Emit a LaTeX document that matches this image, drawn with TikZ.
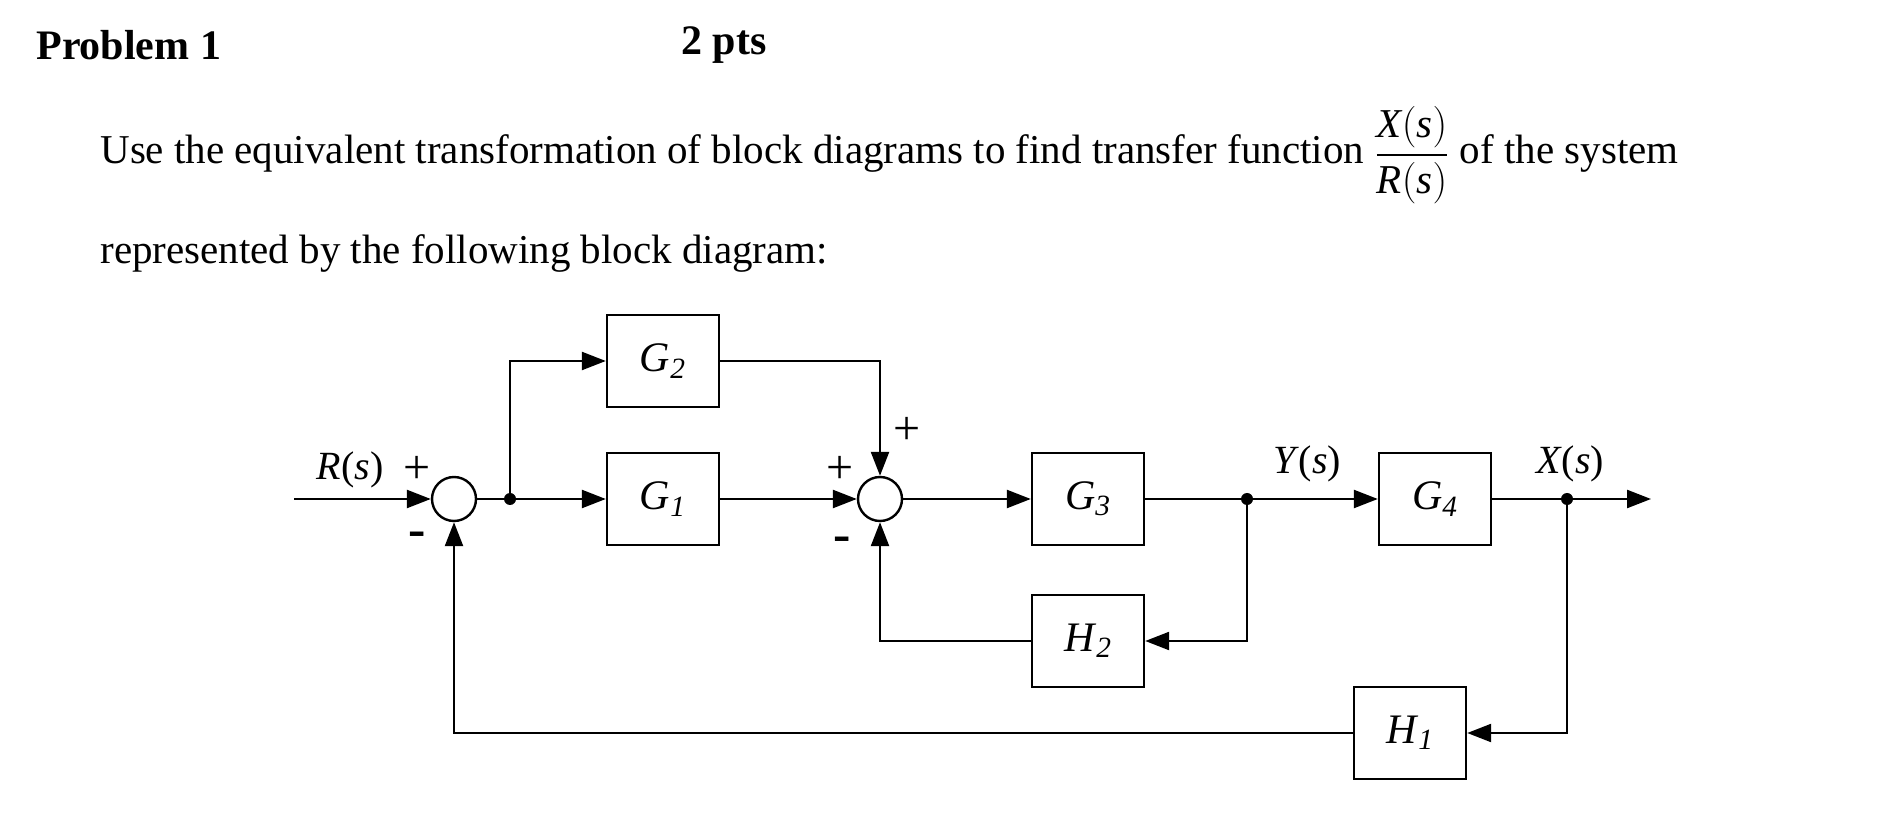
\documentclass[tikz,border=0pt]{standalone}
\usepackage{amsmath}
\usepackage{fontspec}
\setmainfont{Liberation Serif}
\usetikzlibrary{arrows.meta,positioning}

\newcommand{\blk}[2]{\textit{#1}\textsubscript{\textit{#2}}}

\tikzset{%
	block/.style={draw, line width=1.2pt, minimum width=56pt, minimum height=46pt,
		font=\fontsize{21}{24}\selectfont},
	summer/.style={draw, circle, line width=1.2pt, minimum size=22pt, inner sep=0pt},
	junc/.style={circle, fill=black, minimum size=6pt, inner sep=0pt},
	sig/.style={line width=1.2pt, -{Triangle[length=12pt,width=9pt]}},
	wire/.style={line width=1.2pt},
	lbl/.style={font=\fontsize{20}{22}\selectfont},
	body/.style={font=\fontsize{20.5}{24}\selectfont, anchor=west, inner sep=0pt},
}

\begin{document}
\begin{tikzpicture}[x=0.5pt, y=-0.5pt]
\useasboundingbox (0,0) rectangle (1898,822);

% heading and text
\node [body, font=\fontsize{21}{24}\selectfont\bfseries] (prob) at (36,45) {Problem 1};
\node [body, font=\fontsize{21}{24}\selectfont\bfseries] (pts) at (681,45) {2 pts};
\node [body, text width=867pt, align=justify] (line1) at (100,155)
  {\parfillskip=0pt Use the equivalent transformation of block diagrams to find transfer function
   \raisebox{-0.1ex}{$\dfrac{\textit{X}(\textit{s})}{\textit{R}(\textit{s})}$} of the system};
\node [body] (line2) at (100,253) {represented by the following block diagram:};

% blocks
\node [summer] (s1) at (454,499) {};
\node [junc] (d1) at (510,499) {};
\node [block] (g2) at (663,361) {\blk{G}{2}};
\node [block] (g1) at (663,499) {\blk{G}{1}};
\node [summer] (s2) at (880,499) {};
\node [block] (g3) at (1088,499) {\blk{G}{3}};
\node [junc] (dy) at (1247,499) {};
\node [block] (g4) at (1435,499) {\blk{G}{4}};
\node [junc] (dx) at (1567,499) {};
\node [block] (h2) at (1088,641) {\blk{H}{2}};
\node [block] (h1) at (1410,733) {\blk{H}{1}};
\coordinate (in) at (294,499);
\coordinate (out) at (1651,499);

% forward path
\draw [sig] (in) -- (s1);
\draw [wire] (s1) -- (d1);
\draw [sig] (d1) -- (g1);
\draw [sig] (d1) |- (g2);
\draw [sig] (g2) -| (s2);
\draw [sig] (g1) -- (s2);
\draw [sig] (s2) -- (g3);
\draw [wire] (g3) -- (dy);
\draw [sig] (dy) -- (g4);
\draw [wire] (g4) -- (dx);
\draw [sig] (dx) -- (out);

% feedback
\draw [sig] (dy) |- (h2);
\draw [sig] (h2) -| (s2);
\draw [sig] (dx) |- (h1);
\draw [sig] (h1) -| (s1);

% labels
\node [lbl] (rs) at (350,470) {\textit{R}(\textit{s})};
\node [lbl, font=\fontsize{24}{24}\selectfont] (p1) at (417,470) {+};
\node [lbl, font=\fontsize{26}{24}\selectfont\bfseries] (m1) at (417,539) {-};
\node [lbl, font=\fontsize{24}{24}\selectfont] (p2a) at (907,431) {+};
\node [lbl, font=\fontsize{24}{24}\selectfont] (p2b) at (840,470) {+};
\node [lbl, font=\fontsize{26}{24}\selectfont\bfseries] (m2) at (842,544) {-};
\node [lbl] (ys) at (1307,464) {\textit{Y}(\textit{s})};
\node [lbl] (xs) at (1570,464) {\textit{X}(\textit{s})};
\end{tikzpicture}
\end{document}
